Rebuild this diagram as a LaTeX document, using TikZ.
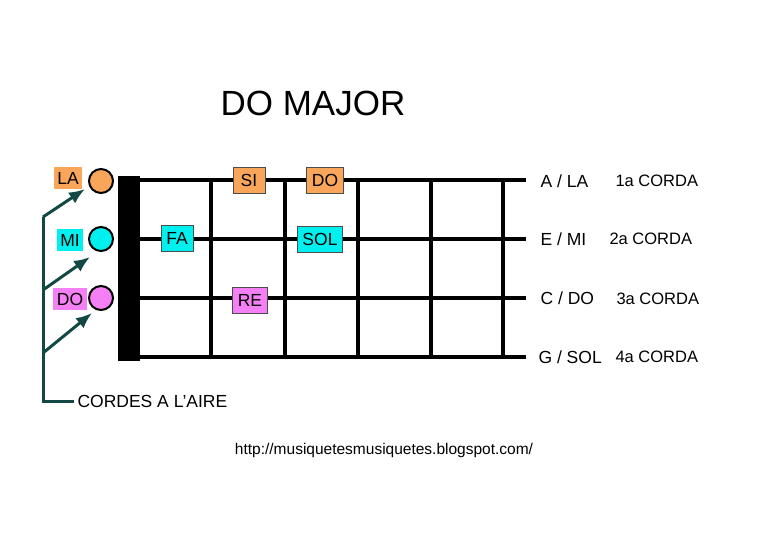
\documentclass[tikz,border=0pt]{standalone}
\usepackage{fontspec}
\setmainfont{Liberation Sans}
\usetikzlibrary{arrows.meta}

\definecolor{noteOrange}{RGB}{250,166,90}
\definecolor{noteCyan}{RGB}{0,240,240}
\definecolor{noteViolet}{RGB}{245,128,245}
\definecolor{pointerTeal}{RGB}{20,72,68}

\tikzset{
  openstring/.style={circle, draw=black, line width=2, minimum size=24, inner sep=0},
  openlabel/.style={inner xsep=3.5, inner ysep=2, minimum height=22},
  fretnote/.style={draw=black!70, line width=0.8, inner xsep=5, minimum width=32, minimum height=26},
  pointer/.style={pointerTeal, line width=3, -{Latex[length=16pt,width=13pt]}}
}

\begin{document}
\begin{tikzpicture}[x=1pt, y=-1pt, font=\fontsize{17.5}{20}\selectfont]

  \useasboundingbox (0,0) rectangle (768,543);

  % title
  \node (title) at (313,103) {\fontsize{35}{40}\selectfont DO MAJOR};

  % nut
  \fill (118,176) rectangle (140,361);

  % strings and frets
  \foreach \y in {180,239,298,357}
    \draw[line width=4.5] (118,\y) -- (526,\y);
  \foreach \x in {211,285,358,431,503}
    \draw[line width=4.5] (\x,180) -- (\x,357);

  % string names
  \node[anchor=west] (nameA) at (537,181) {A / LA};
  \node[anchor=west] (nameE) at (537,239) {E / MI};
  \node[anchor=west] (nameC) at (537,298) {C / DO};
  \node[anchor=west] (nameG) at (535,357) {G / SOL};
  \begin{scope}[every node/.style={anchor=west, font=\fontsize{16.5}{20}\selectfont}]
    \node (cordaOne)   at (612,181) {1a CORDA};
    \node (cordaTwo)   at (606,239) {2a CORDA};
    \node (cordaThree) at (613,299) {3a CORDA};
    \node (cordaFour)  at (612,357) {4a CORDA};
  \end{scope}

  % open strings
  \node[openstring, fill=noteOrange] (openLa) at (101,181) {};
  \node[openstring, fill=noteCyan]   (openMi) at (101,239) {};
  \node[openstring, fill=noteViolet] (openDo) at (101,298) {};
  \node[openlabel, fill=noteOrange] (labLa) at (68,178) {LA};
  \node[openlabel, fill=noteCyan]   (labMi) at (70,240) {MI};
  \node[openlabel, fill=noteViolet] (labDo) at (70,299) {DO};

  % notes of the scale
  \node[fretnote, fill=noteOrange] (si)  at (249,180) {SI};
  \node[fretnote, fill=noteOrange] (do)  at (325,180) {DO};
  \node[fretnote, fill=noteCyan]   (fa)  at (177,238) {FA};
  \node[fretnote, fill=noteCyan]   (sol) at (320,239) {SOL};
  \node[fretnote, fill=noteViolet] (re)  at (250,300) {RE};

  % open strings pointer
  \node[anchor=west] (cordes) at (74,401) {CORDES A L'AIRE};
  \coordinate (trunkTop) at (43,217);
  \coordinate (trunkMid) at (43,290);
  \coordinate (trunkLow) at (43,353);
  \coordinate (trunkBot) at (43,401);
  \draw[pointerTeal, line width=3] (cordes.west) -- (trunkBot) -- (trunkTop);
  \draw[pointer] (trunkTop) -- ([shift={(-16,8)}]openLa.center);
  \draw[pointer] (trunkMid) -- ([shift={(-11,18)}]openMi.center);
  \draw[pointer] (trunkLow) -- ([shift={(-9,15)}]openDo.center);

  % source
  \node (url) at (384,450) {\fontsize{15.5}{18}\selectfont http://musiquetesmusiquetes.blogspot.com/};

\end{tikzpicture}
\end{document}
